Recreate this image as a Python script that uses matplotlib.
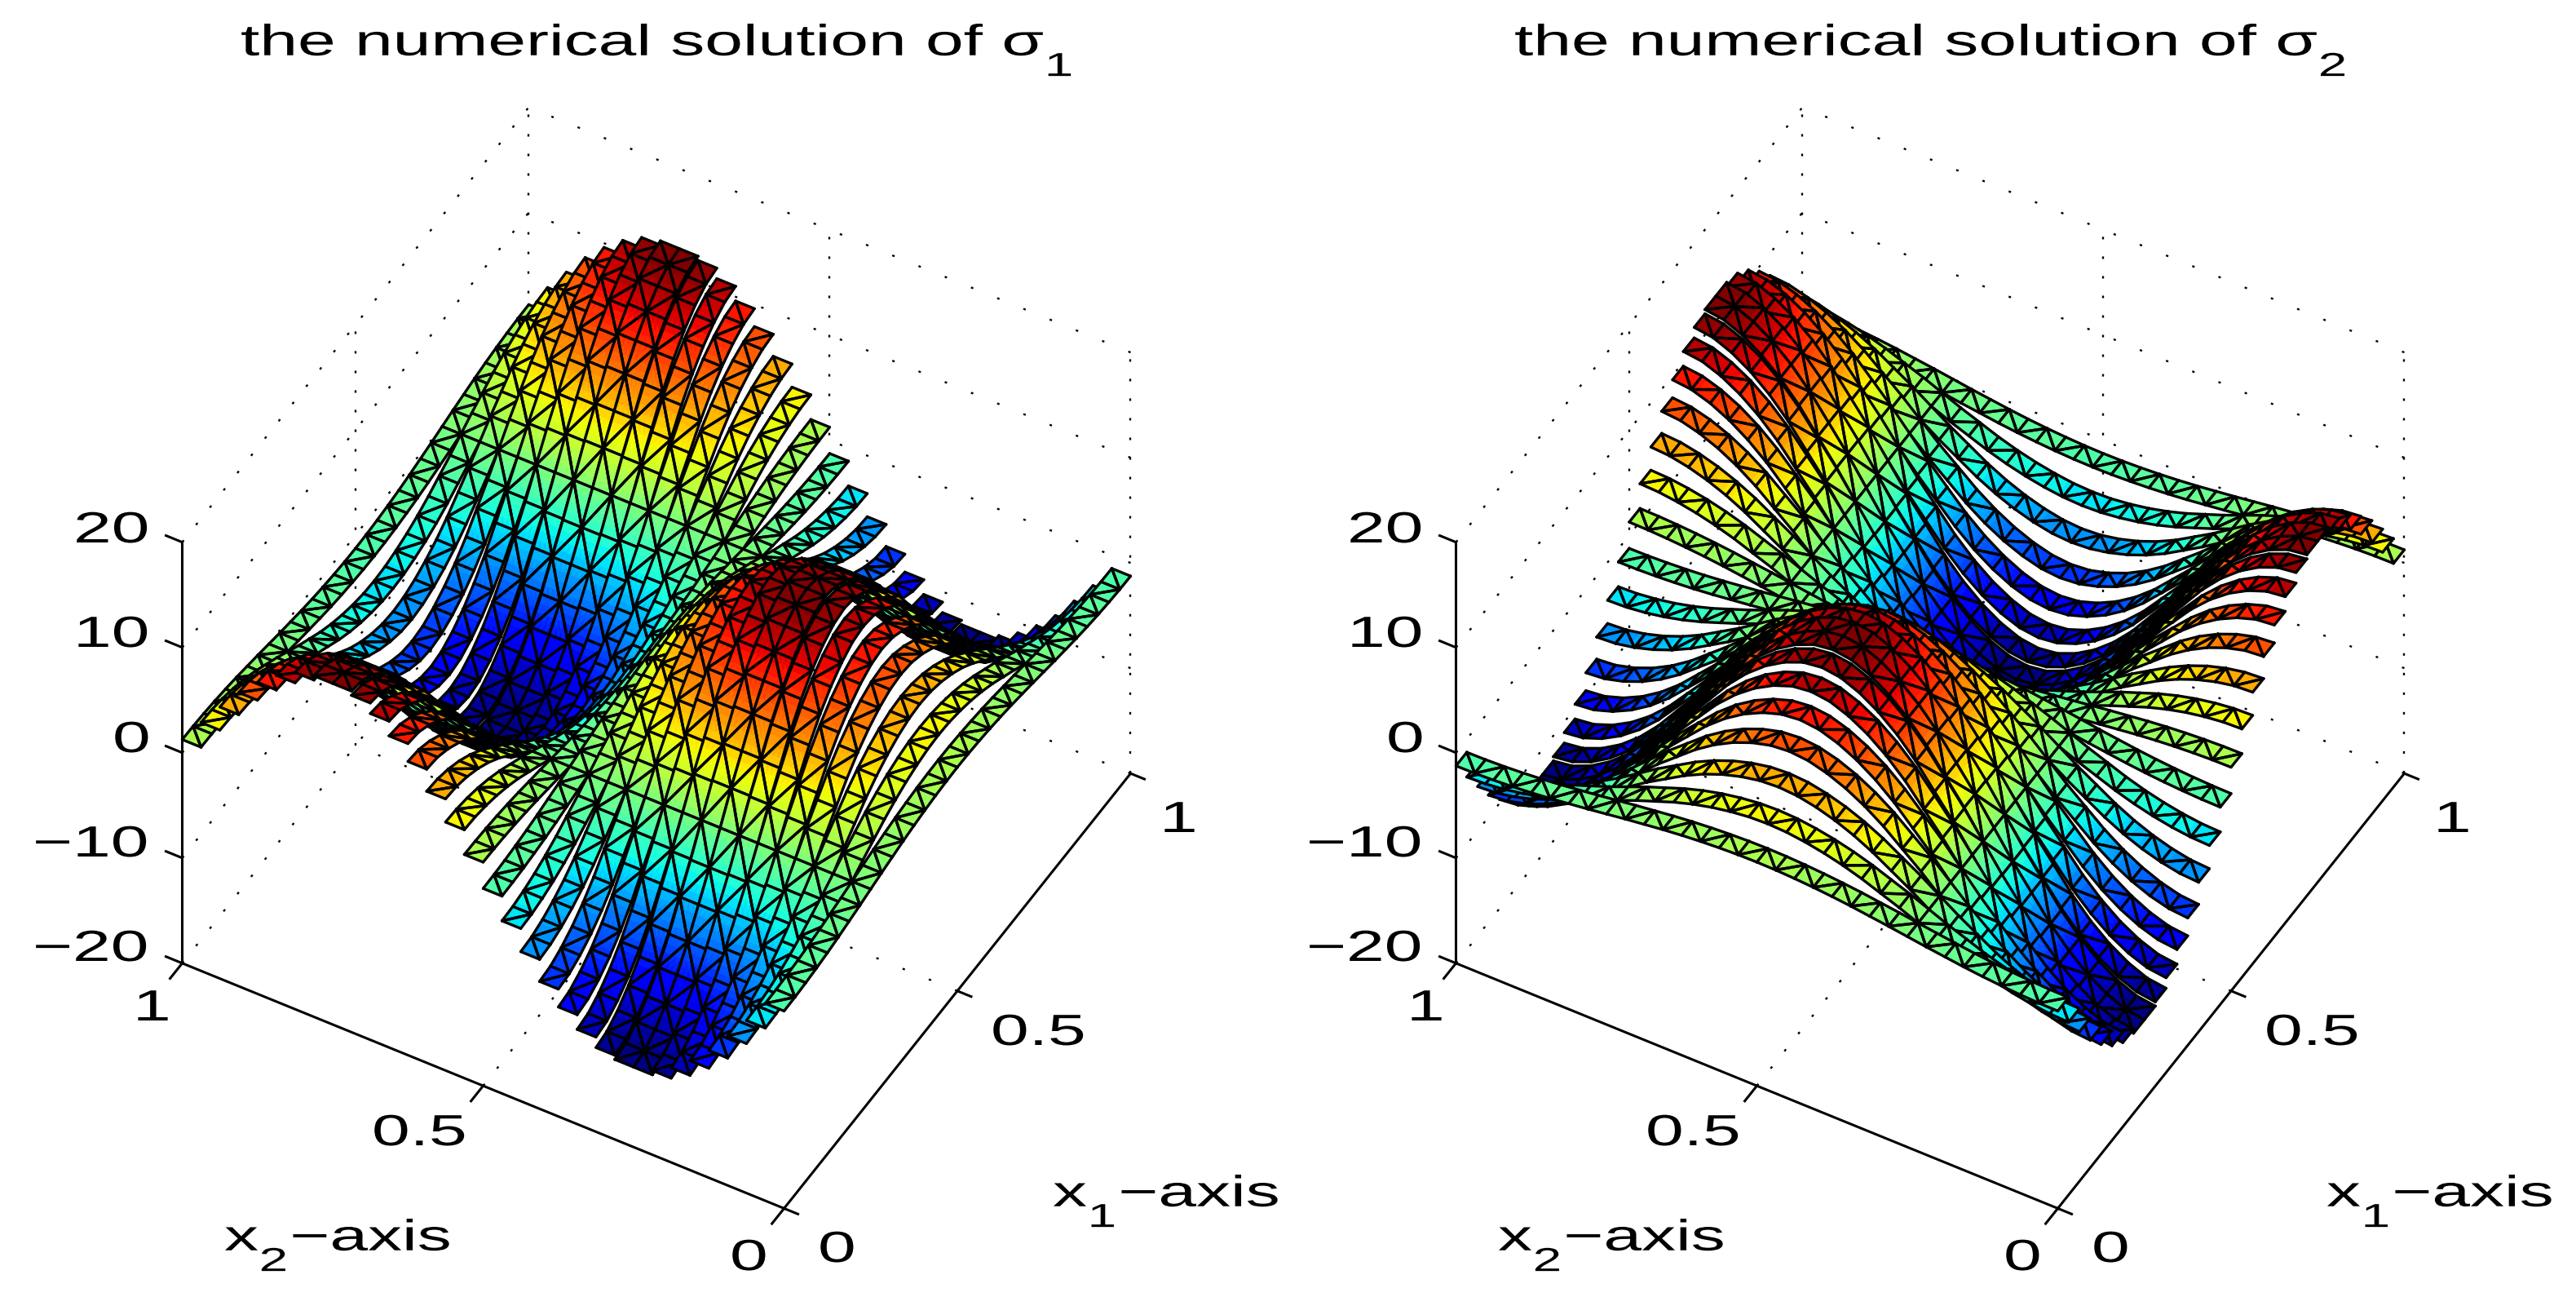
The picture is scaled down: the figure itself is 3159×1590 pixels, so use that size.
import numpy as np
import matplotlib
matplotlib.use("Agg")
import matplotlib.pyplot as plt
from matplotlib import _mathtext
from matplotlib.patheffects import AbstractPathEffect
from matplotlib.transforms import Affine2D
from mpl_toolkits.mplot3d.art3d import Poly3DCollection, Line3DCollection

# ---------- values ----------
# relative height along a strip, at the 33 mesh nodes
strip_profile = [1.00, .98, .92, .83, .71, .56, .38, .20, 0, -.20, -.38, -.56, -.71, -.83, -.92, -.98, -1.00,
                 -.98, -.92, -.83, -.71, -.56, -.38, -.20, 0, .20, .38, .56, .71, .83, .92, .98, 1.00]
# height of each of the 32 strips at the reference end of the strip
strip_levels = [-1.25, -3.6, -5.8, -7.9, -9.6, -11.0, -12.0, -12.4, -12.4, -12.0, -11.0, -9.6, -7.9, -5.8, -3.6, -1.25,
                1.25, 3.6, 5.8, 7.9, 9.6, 11.0, 12.0, 12.4, 12.4, 12.0, 11.0, 9.6, 7.9, 5.8, 3.6, 1.25]
x_ticks = [0, 0.5, 1]
z_ticks = [-20, -10, 0, 10, 20]
titles = [r'the numerical solution of $\sigma_1$', r'the numerical solution of $\sigma_2$']

W, H = 3159, 1590
DPI = 100
PANEL_DX = 1562
FS = 38.5
SX = 1.57

plt.rcParams.update({'font.family': 'Liberation Sans', 'mathtext.fontset': 'custom',
                     'mathtext.rm': 'Liberation Sans', 'mathtext.it': 'Liberation Sans',
                     'mathtext.bf': 'Liberation Sans', 'mathtext.default': 'regular',
                     'lines.scale_dashes': False})
# MATLAB sets its subscripts larger and lower than mathtext does
_mathtext.SHRINK_FACTOR = 0.76
_mathtext.FontConstantsBase.sub1 = 0.9
_mathtext.FontConstantsBase.delta = 0.02


class Stretch(AbstractPathEffect):
    """Widen text about its left anchor, as in the reference."""
    def __init__(self, sx):
        super().__init__()
        self.sx = sx

    def draw_path(self, renderer, gc, tpath, affine, rgbFace=None):
        m = affine.get_matrix().copy()
        m[0, 0] *= self.sx
        m[0, 1] *= self.sx
        renderer.draw_path(gc, tpath, Affine2D(m), rgbFace)


fig = plt.figure(figsize=(W / DPI, H / DPI), dpi=DPI, facecolor='white')
cmap = plt.get_cmap('jet', 64)
prof = np.array(strip_profile)
lev = np.array(strip_levels)
N = len(lev)
nodes = np.arange(N + 1) / N


def put(x, y, s, **kw):
    fig.text(x / W, 1 - y / H, s, ha='left', va='baseline', fontsize=FS, color='black',
             path_effects=[Stretch(SX)], **kw)


def subdivide(tri, n=4):
    a, b, c = tri
    out = []
    P = lambda i, j: a + (b - a) * i / n + (c - a) * j / n
    for i in range(n):
        for j in range(n - i):
            out.append([P(i, j), P(i + 1, j), P(i, j + 1)])
            if i + j < n - 1:
                out.append([P(i + 1, j), P(i + 1, j + 1), P(i, j + 1)])
    return out


def draw_panel(px, which):
    S = 1374
    left = 99.4 + px
    bottom = 78
    ax = fig.add_axes([left / W, bottom / H, S / W, S / H], projection='3d', computed_zorder=False)
    ax.set_proj_type('ortho')
    ax.view_init(elev=45.63, azim=-150.33)
    ax.set_box_aspect((856.6, 847.6, 736.5), zoom=1.0)
    ax.patch.set_alpha(0)
    ax.set_axis_off()

    # dotted back grid
    def dot(period):
        return dict(color='k', lw=1.7, linestyle=(0, (2.2, period - 2.2)), zorder=1, clip_on=False)
    dx1, dx2, dz = dot(19.5), dot(25.0), dot(17.3)
    ax.plot([.5, .5], [0, 1], [-20, -20], **dx2)
    ax.plot([0, 1], [.5, .5], [-20, -20], **dx1)
    ax.plot([.5, .5], [1, 1], [-20, 20], **dz)
    for t in x_ticks:
        ax.plot([1, 1], [t, t], [-20, 20], **dz)
    for z in z_ticks:
        ax.plot([1, 1], [0, 1], [z, z], **dx2)
        ax.plot([0, 1], [1, 1], [z, z], **dx1)

    # solid axes and ticks
    sol = dict(color='k', lw=2.2, zorder=2, clip_on=False)
    ax.plot([0, 0], [1, 1], [-20, 20], **sol)
    ax.plot([0, 0], [0, 1], [-20, -20], **sol)
    ax.plot([0, 1], [0, 0], [-20, -20], **sol)
    for t in x_ticks:
        ax.plot([0, -.035], [t, t], [-20, -20], **sol)
        ax.plot([t, t], [0, -.023], [-20, -20], **sol)
    for z in z_ticks:
        ax.plot([0, 0], [1, 1.027], [z, z], **sol)

    # surface: painted from the back corner to the front corner
    zmax = np.abs(lev).max()
    def cell_z(i, j):
        if which == 0:
            return prof[i] * lev[j], prof[i + 1] * lev[j], prof[i] * lev[j], prof[i + 1] * lev[j]
        return prof[j] * lev[i], prof[j] * lev[i], prof[j + 1] * lev[i], prof[j + 1] * lev[i]

    for k in range(2 * N - 2, -1, -1):
        faces, cols, segs = [], [], []
        for i in range(max(0, k - N + 1), min(N - 1, k) + 1):
            j = k - i
            z00, z10, z01, z11 = cell_z(i, j)
            p00 = np.array([nodes[i], nodes[j], z00])
            p10 = np.array([nodes[i + 1], nodes[j], z10])
            p01 = np.array([nodes[i], nodes[j + 1], z01])
            p11 = np.array([nodes[i + 1], nodes[j + 1], z11])
            if (i + j) % 2 == 1:
                tris = [(p00, p10, p11), (p00, p11, p01)]
            else:
                tris = [(p00, p10, p01), (p10, p11, p01)]
            for tri in tris:
                for sub in subdivide(tri):
                    sub = np.array(sub)
                    faces.append(sub)
                    cols.append(cmap((sub[:, 2].mean() + zmax) / (2 * zmax)))
                a, b, c = tri
                segs += [[a, b], [b, c], [c, a]]
        ax.add_collection3d(Poly3DCollection(faces, facecolors=cols, edgecolors='none', linewidths=0,
                                             antialiaseds=False, zorder=10 + 2 * (2 * N - k)))
        ax.add_collection3d(Line3DCollection(segs, colors='k', linewidths=2.4, capstyle='round',
                                             zorder=11 + 2 * (2 * N - k)))
    ax.set_xlim(0, 1)
    ax.set_ylim(0, 1)
    ax.set_zlim(-20, 20)

    # texts
    put(295 + px, 68, titles[which])
    for s, x, y in [('20', 90, 665), ('10', 90, 793), ('0', 138, 922), ('\u221210', 40, 1050), ('\u221220', 40, 1178),
                    ('1', 163, 1251), ('0.5', 456, 1404), ('0', 895, 1557),
                    ('0', 1003, 1547), ('0.5', 1215, 1281), ('1', 1422, 1020)]:
        put(x + px, y, s)
    put(275 + px, 1533, 'x$_2$\u2212axis')
    put(1291 + px, 1479, 'x$_1$\u2212axis')


draw_panel(0, 0)
draw_panel(PANEL_DX, 1)
fig.savefig('out.png', dpi=DPI, facecolor='white')
